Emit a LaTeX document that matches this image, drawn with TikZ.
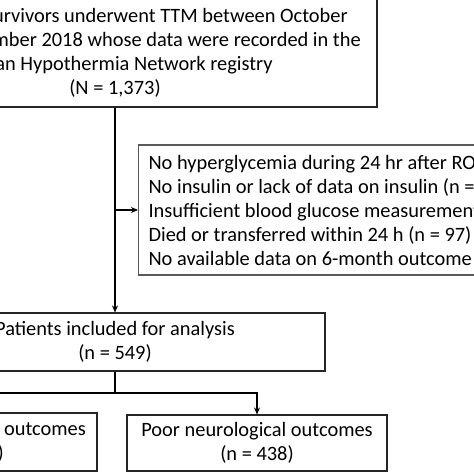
\documentclass[tikz,border=0pt]{standalone}
\usepackage{fontspec}
\setmainfont{Carlito}
\usetikzlibrary{arrows.meta}

\tikzset{
  flowbox/.style={draw=black!85, line width=1.1pt, fill=white, align=center,
    inner xsep=8pt, inner ysep=4pt, font=\fontsize{20.4}{24}\selectfont},
  link/.style={line width=1.1pt, draw=black}
}

\begin{document}
\begin{tikzpicture}[x=1pt, y=-1pt, >={Stealth[length=7pt,width=6pt]}]
   \useasboundingbox (0,0) rectangle (474,474);
   \clip (0,0) rectangle (474,474);

   \node[flowbox, minimum width=524, minimum height=108] (cohort) at (115,53)
     {Adult OHCA survivors underwent TTM between October\\
      2015 and December 2018 whose data were recorded in the\\
      Korean Hypothermia Network registry\\
      (N = 1,373)};

   \node[flowbox, draw=black!65, align=left, anchor=west, minimum height=130, inner xsep=10pt] (excl) at (138,210)
     {No hyperglycemia during 24 hr after ROSC\\
      No insulin or lack of data on insulin (n =\\
      Insufficient blood glucose measurements\\
      Died or transferred within 24 h (n = 97)\\
      No available data on 6-month outcome};

   \node[flowbox, minimum width=420, minimum height=58] (incl) at (115,342)
     {Patients included for analysis\\(n = 549)};

   \node[flowbox, minimum width=260, minimum height=58] (good) at (-33,442)
     {Good neurological outcomes\\(n = 111)};
   \node[flowbox, minimum width=260, minimum height=56] (poor) at (257,443)
     {Poor neurological outcomes\\(n = 438)};

   \coordinate (split) at (incl.south |- 0,393);

   \draw[link, ->] (cohort.south) -- (incl.north);
   \draw[link, ->] (cohort.south |- excl.west) -- (excl.west);
   \draw[link] (incl.south) -- (split);
   \draw[link, ->] (split) -| (poor.north);
   \draw[link, ->] (split) -| (good.north);
\end{tikzpicture}
\end{document}
